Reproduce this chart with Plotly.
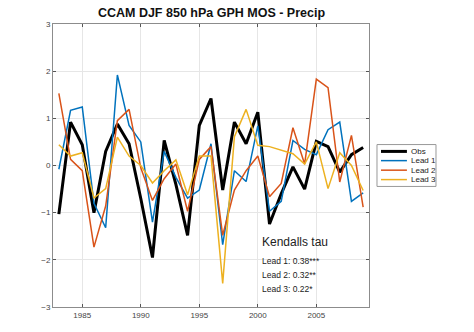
import plotly.graph_objects as go

years = list(range(1983, 2010))
obs = [-1.03, 0.92, 0.44, -1.0, 0.3, 0.88, 0.46, -0.7, -1.95, 0.53, -0.4, -1.48, 0.85, 1.42, -0.52, 0.92,
       0.46, 1.13, -1.24, -0.6, -0.03, -0.5, 0.51, 0.4, -0.14, 0.23, 0.38]
lead1 = [-0.08, 1.17, 1.24, -0.8, -1.32, 1.92, 0.85, 0.5, -1.2, 0.3, -0.25, -0.69, -0.52, 0.46, -1.68, -0.11,
         -0.34, 0.84, -0.97, -0.76, 0.53, 0.34, 0.23, 0.76, 0.92, -0.76, -0.58]
lead2 = [1.53, 0.13, -0.11, -1.73, -0.86, 0.95, 1.19, -0.05, -0.74, -0.28, 0.03, -0.97, 0.13, 0.4, -1.48, -0.52,
         -0.11, 0.2, -0.66, -0.38, 0.8, 0.03, 1.83, 1.65, -0.35, 0.64, -0.88]
lead3 = [0.44, 0.2, 0.27, -0.69, -0.49, 0.6, 0.2, 0.0, -0.37, -0.11, 0.12, -0.62, 0.2, 0.2, -2.5, 0.61,
         1.19, 0.43, 0.4, 0.33, 0.25, 0.03, 0.5, -0.49, 0.27, 0.0, -0.53]

names = ["Obs", "Lead 1", "Lead 2", "Lead 3"]
colors = ["black", "#0072BD", "#D95319", "#EDB120"]
widths = [3, 1.5, 1.5, 1.5]
values = [obs, lead1, lead2, lead3]

title = "CCAM DJF 850 hPa GPH MOS - Precip"
tau_title = "Kendalls tau"
tau_lines = ["Lead 1: 0.38***", "Lead 2: 0.32**", "Lead 3: 0.22*"]
xticks = [1985, 1990, 1995, 2000, 2005]
yticks = [-3, -2, -1, 0, 1, 2, 3]

fig = go.Figure()
for name, vals, col, w in zip(names, values, colors, widths):
    fig.add_trace(go.Scatter(x=years, y=vals, mode="lines", name=name,
                             line=dict(color=col, width=w), showlegend=False))

axis_common = dict(showline=True, linecolor="#8c8c8c", linewidth=1, mirror="allticks",
                   ticks="inside", ticklen=3, tickcolor="#555", showgrid=True,
                   gridcolor="#e6e6e6", gridwidth=1, zeroline=False,
                   tickfont=dict(size=8, color="#444"))
fig.update_xaxes(range=[1982.5, 2009.5], tickvals=xticks, **axis_common)
fig.update_yaxes(range=[-3, 3], tickvals=yticks, **axis_common)

fig.add_annotation(x=2000.2, y=-1.63, text=tau_title, showarrow=False, xanchor="left",
                   yanchor="middle", font=dict(size=12, color="#222"))
for t, yy in zip(tau_lines, [-2.02, -2.33, -2.62]):
    fig.add_annotation(x=2000.2, y=yy, text=t, showarrow=False, xanchor="left",
                       yanchor="middle", font=dict(size=8.5, color="#222"))

# compact MATLAB-style legend box (paper coordinates)
fig.add_shape(type="rect", xref="paper", yref="paper", x0=1.0253, x1=1.212, y0=0.426, y1=0.574,
              line=dict(color="#999", width=1), fillcolor="white")
leg_y = [0.5498, 0.5172, 0.4835, 0.4502]
for name, col, w, yy in zip(names, colors, widths, leg_y):
    fig.add_shape(type="line", xref="paper", yref="paper", x0=1.038, x1=1.120, y0=yy, y1=yy,
                  line=dict(color=col, width=w))
    fig.add_annotation(xref="paper", yref="paper", x=1.1266, y=yy, text=name, showarrow=False,
                       xanchor="left", yanchor="middle", font=dict(size=8, color="#222"))

fig.update_layout(
    width=474, height=332,
    margin=dict(l=53, r=105, t=24, b=17),
    paper_bgcolor="white", plot_bgcolor="white",
    font=dict(family="Liberation Sans, Arial, sans-serif"),
    title=dict(text="<b>" + title + "</b>", x=211.5 / 474, xanchor="center",
               y=1 - 13 / 332, yanchor="middle", font=dict(size=12.5, color="#111")),
    showlegend=False,
)

fig.write_html("out.html")
